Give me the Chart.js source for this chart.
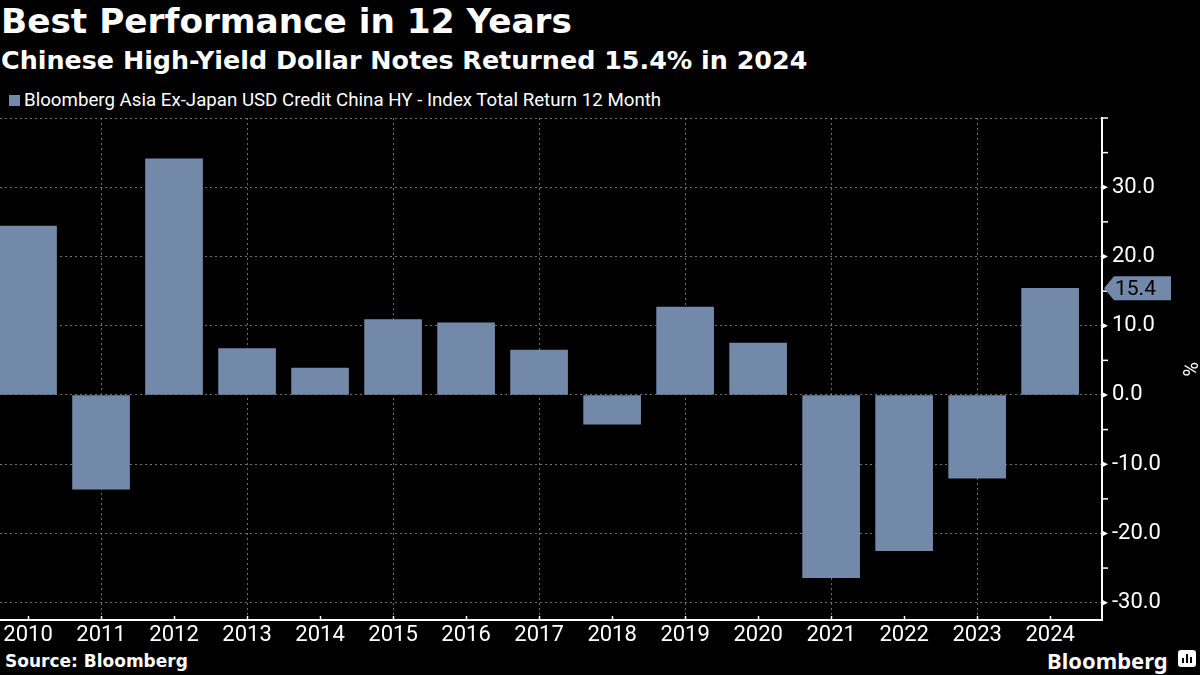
<!DOCTYPE html>
<html>
<head>
<meta charset="utf-8">
<script src="https://cdn.jsdelivr.net/npm/chart.js@4/dist/chart.umd.min.js"></script>
<style>
  body { margin: 0; background: #000; width: 1200px; height: 675px; overflow: hidden; position: relative; font-family: Roboto, "Noto Sans", sans-serif; color: #fff; }
  .title { position: absolute; left: 1px; top: 1px; font: bold 34.3px "DejaVu Sans", sans-serif; white-space: nowrap; }
  .subtitle { position: absolute; left: 1px; top: 45px; font: bold 25.4px "DejaVu Sans", sans-serif; white-space: nowrap; }
  .legend { position: absolute; left: 9px; top: 89px; font-size: 18.7px; white-space: nowrap; }
  .legend i { display: inline-block; width: 11px; height: 11px; background: #7289aa; margin-right: 4px; }
  .source { position: absolute; left: 5px; top: 651px; font: bold 17px "DejaVu Sans", sans-serif; }
  .logo { position: absolute; left: 1047px; top: 645px; font: bold 22px "Noto Sans", sans-serif; }
  .icon { position: absolute; left: 1178px; top: 650px; width: 18px; height: 17px; background: #fff; border-radius: 3px; }
  .icon b { position: absolute; bottom: 4px; width: 2px; background: #000; }
  canvas { position: absolute; left: 0; top: 0; }
</style>
</head>
<body>
<div class="title">Best Performance in 12 Years</div>
<div class="subtitle">Chinese High-Yield Dollar Notes Returned 15.4% in 2024</div>
<div class="legend"><i></i>Bloomberg Asia Ex-Japan USD Credit China HY - Index Total Return 12 Month</div>
<div class="source">Source: Bloomberg</div>
<div class="logo">Bloomberg</div>
<div class="icon"><b style="left:4px;height:5px"></b><b style="left:8px;height:9px"></b><b style="left:12px;height:6px"></b></div>
<canvas id="chart" width="1200" height="675"></canvas>
<script>
const years = ["2010", "2011", "2012", "2013", "2014", "2015", "2016", "2017", "2018", "2019", "2020", "2021", "2022", "2023", "2024"];
const returns = [24.4, -13.6, 34.1, 6.7, 3.9, 10.9, 10.4, 6.5, -4.2, 12.7, 7.5, -26.4, -22.5, -12.0, 15.4];
const yTicks = [-30, -25, -20, -15, -10, -5, 0, 5, 10, 15, 20, 25, 30, 35, 40];
const lastValue = 15.4;

const barColor = "#7289aa";
const gridColor = "rgba(150,150,150,0.75)";
const tickFont = "Roboto, 'Noto Sans', sans-serif";

// draws axis tick marks and the last value tag
const axisMarks = {
  id: "axisMarks",
  afterDraw(chart) {
    const ctx = chart.ctx;
    const x = chart.scales.x, y = chart.scales.y;
    const area = chart.chartArea;
    ctx.save();
    ctx.strokeStyle = "#fff";
    ctx.fillStyle = "#fff";
    ctx.lineWidth = 1.5;
    // small inward ticks on x axis
    years.forEach((_, i) => {
      const px = Math.round(x.getPixelForValue(i)) + 0.5;
      ctx.beginPath();
      ctx.moveTo(px, area.bottom);
      ctx.lineTo(px, area.bottom - 4);
      ctx.stroke();
    });
    // y ticks: triangles at labelled values, short lines elsewhere
    yTicks.forEach(v => {
      const py = y.getPixelForValue(v);
      if (v % 10 === 0 && v !== 40) {
        ctx.beginPath();
        ctx.moveTo(area.right, py - 3);
        ctx.lineTo(area.right + 6, py);
        ctx.lineTo(area.right, py + 3);
        ctx.closePath();
        ctx.fill();
      } else {
        ctx.beginPath();
        ctx.moveTo(area.right, py);
        ctx.lineTo(area.right + 6, py);
        ctx.stroke();
      }
    });
    // last value tag
    const ty = y.getPixelForValue(lastValue);
    const left = area.right + 2;
    ctx.fillStyle = barColor;
    ctx.beginPath();
    ctx.moveTo(left, ty);
    ctx.lineTo(left + 10, ty - 12);
    ctx.lineTo(left + 67, ty - 12);
    ctx.lineTo(left + 67, ty + 12);
    ctx.lineTo(left + 10, ty + 12);
    ctx.closePath();
    ctx.fill();
    ctx.fillStyle = "#000";
    ctx.font = "21px " + tickFont;
    ctx.textBaseline = "middle";
    ctx.fillText(lastValue.toFixed(1), left + 11, ty + 1);
    ctx.restore();
  }
};

new Chart(document.getElementById("chart"), {
  type: "bar",
  data: {
    datasets: [{
      data: years.map((yr, i) => ({ x: i, y: returns[i] })),
      backgroundColor: barColor,
      barThickness: 57
    }]
  },
  options: {
    responsive: false,
    animation: false,
    layout: { padding: { top: 118, left: 0, right: 0, bottom: 0 } },
    plugins: { legend: { display: false }, tooltip: { enabled: false } },
    scales: {
      x: {
        type: "linear",
        min: -0.384,
        max: 14.71,
        offset: false,
        afterBuildTicks: s => { s.ticks = years.map((_, i) => ({ value: i })); },
        afterFit: s => { s.height = 55; },
        ticks: {
          color: "#fff",
          font: { family: tickFont, size: 22 },
          padding: 2,
          maxRotation: 0,
          autoSkip: false,
          callback: v => years[v]
        },
        grid: {
          offset: false,
          color: c => (c.tick && c.tick.value % 2 === 1) ? gridColor : "transparent",
          lineWidth: 1,
          drawTicks: false
        },
        border: { color: "#fff", width: 2, dash: [2, 3] }
      },
      y: {
        position: "right",
        min: -32.5,
        max: 40,
        afterBuildTicks: s => { s.ticks = yTicks.map(v => ({ value: v })); },
        afterFit: s => { s.width = 98; },
        ticks: {
          color: "#fff",
          font: { family: tickFont, size: 22 },
          padding: 10,
          callback: v => (v % 10 === 0 && v !== 40) ? v.toFixed(1) : ""
        },
        grid: {
          color: c => (c.tick && c.tick.value % 10 === 0) ? gridColor : "transparent",
          drawTicks: false
        },
        border: { color: "#fff", width: 2, dash: [2, 3] },
        title: {
          display: true,
          text: "%",
          color: "#fff",
          font: { family: tickFont, size: 20 },
          padding: { top: 0, bottom: 11 }
        }
      }
    }
  },
  plugins: [axisMarks]
});
</script>
</body>
</html>
